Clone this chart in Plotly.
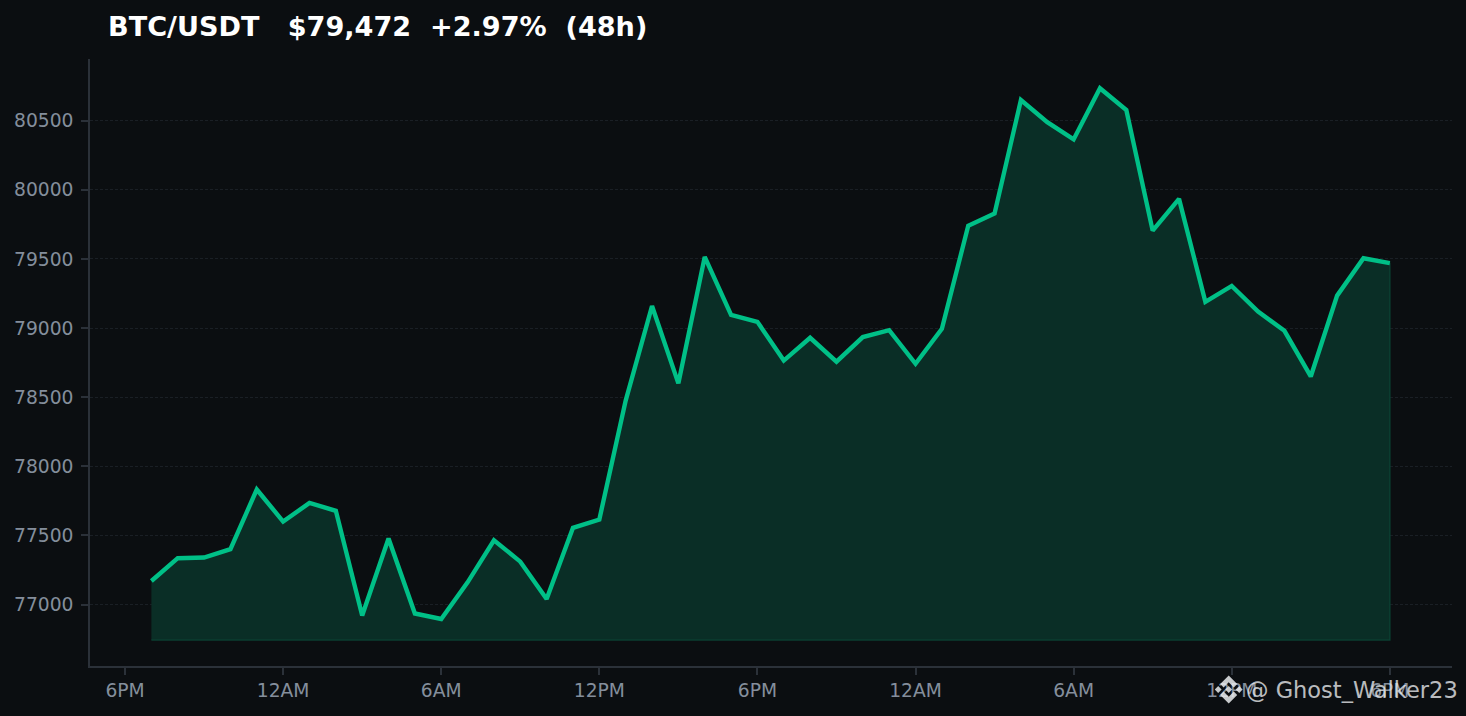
import plotly.graph_objects as go

WIDTH = 1466
HEIGHT = 716
BG = '#0b0e11'
GREEN = '#00c087'

# hours since the 6PM start of the 48h window
hours = list(range(1, 49))
prices = [
    77170, 77335, 77340, 77400, 77832, 77600, 77735, 77678, 76920, 77478,
    76935, 76895, 77160, 77465, 77310, 77040, 77555, 77615, 78475, 79160,
    78600, 79515, 79095, 79045, 78765, 78930, 78757, 78935, 78985, 78742,
    78995, 79740, 79830, 80650, 80490, 80365, 80735, 80578, 79705, 79935,
    79190, 79305, 79120, 78980, 78650, 79235, 79505, 79470,
]
fill_floor = 76744

tick_hours = [0, 6, 12, 18, 24, 30, 36, 42, 48]
tick_labels = ['6PM', '12AM', '6AM', '12PM', '6PM', '12AM', '6AM', '12PM', '6PM']
price_ticks = [77000, 77500, 78000, 78500, 79000, 79500, 80000, 80500]

title_text = 'BTC/USDT\u00a0\u00a0\u00a0$79,472\u00a0\u00a0+2.97%\u00a0\u00a0(48h)'
watermark = '@ Ghost_Walker23'

LEFT, RIGHT, TOP, BOTTOM = 90, 14, 59, 49.5
plot_w = WIDTH - LEFT - RIGHT
plot_h = HEIGHT - TOP - BOTTOM


def paper_x(px):
    return (px - LEFT) / plot_w


def paper_y(py):
    return (HEIGHT - BOTTOM - py) / plot_h


def logo_piece(points, cx=1228.7, cy=690):
    # polygon given in pixels around the logo centre -> svg path in paper coords
    pts = [f'{paper_x(cx + dx):.5f},{paper_y(cy + dy):.5f}' for dx, dy in points]
    return 'M' + ' L'.join(pts) + ' Z'


def diamond(dx, r=3.4):
    return [(dx, -r), (dx + r, 0), (dx, r), (dx - r, 0)]


chevron_top = [(0, -14), (8.5, -5.5), (5.1, -2.1), (0, -7.2), (-5.1, -2.1), (-8.5, -5.5)]
chevron_bottom = [(x, -y) for x, y in chevron_top]
logo_parts = [chevron_top, chevron_bottom, diamond(0), diamond(-10.5), diamond(10.5)]

fig = go.Figure()

# closed area under the line, with its faint outline
fig.add_trace(go.Scatter(
    x=hours + hours[::-1],
    y=prices + [fill_floor] * len(hours),
    mode='lines',
    fill='toself',
    fillcolor='#0a2e26',
    line=dict(color='#0b3e31', width=1.5),
    hoverinfo='skip',
    showlegend=False,
))
fig.add_trace(go.Scatter(
    x=hours,
    y=prices,
    mode='lines',
    line=dict(color=GREEN, width=4.4),
    showlegend=False,
))

axis_style = dict(
    showline=True,
    linecolor='#2b3139',
    linewidth=1.5,
    ticks='outside',
    tickcolor='#2b3139',
    tickwidth=1.5,
    ticklen=7,
    tickfont=dict(family='DejaVu Sans', size=18.7, color='#848e9c'),
    zeroline=False,
)

fig.update_xaxes(
    range=[-1.33, 50.36],
    tickmode='array',
    tickvals=tick_hours,
    ticktext=tick_labels,
    showgrid=False,
    **axis_style,
)
fig.update_yaxes(
    range=[76555, 80947],
    tickmode='array',
    tickvals=price_ticks,
    ticktext=[str(p) for p in price_ticks],
    showgrid=True,
    gridcolor='#1a1f25',
    griddash='3px,2px',
    gridwidth=1,
    ticklabelstandoff=4,
    **axis_style,
)

fig.update_layout(
    width=WIDTH,
    height=HEIGHT,
    autosize=False,
    margin=dict(l=LEFT, r=RIGHT, t=TOP, b=BOTTOM),
    paper_bgcolor=BG,
    plot_bgcolor=BG,
    shapes=[
        dict(type='path', xref='paper', yref='paper', path=logo_piece(p),
             fillcolor='rgba(234,236,239,0.85)', line=dict(width=0), layer='above')
        for p in logo_parts
    ],
    annotations=[
        dict(text=f'<b>{title_text}</b>', xref='paper', yref='paper',
             x=paper_x(106), y=paper_y(26.5), xanchor='left', yanchor='middle',
             showarrow=False,
             font=dict(family='DejaVu Sans', size=27.1, color='#ffffff')),
        dict(text=watermark, xref='paper', yref='paper',
             x=paper_x(1459.5), y=paper_y(691), xanchor='right', yanchor='middle',
             showarrow=False,
             font=dict(family='DejaVu Sans', size=22.5, color='rgba(234,236,239,0.8)')),
    ],
)

fig.write_html('out.html', config={'displayModeBar': False},
               post_script="document.body.style.margin='0';document.body.style.background='#0b0e11';")
